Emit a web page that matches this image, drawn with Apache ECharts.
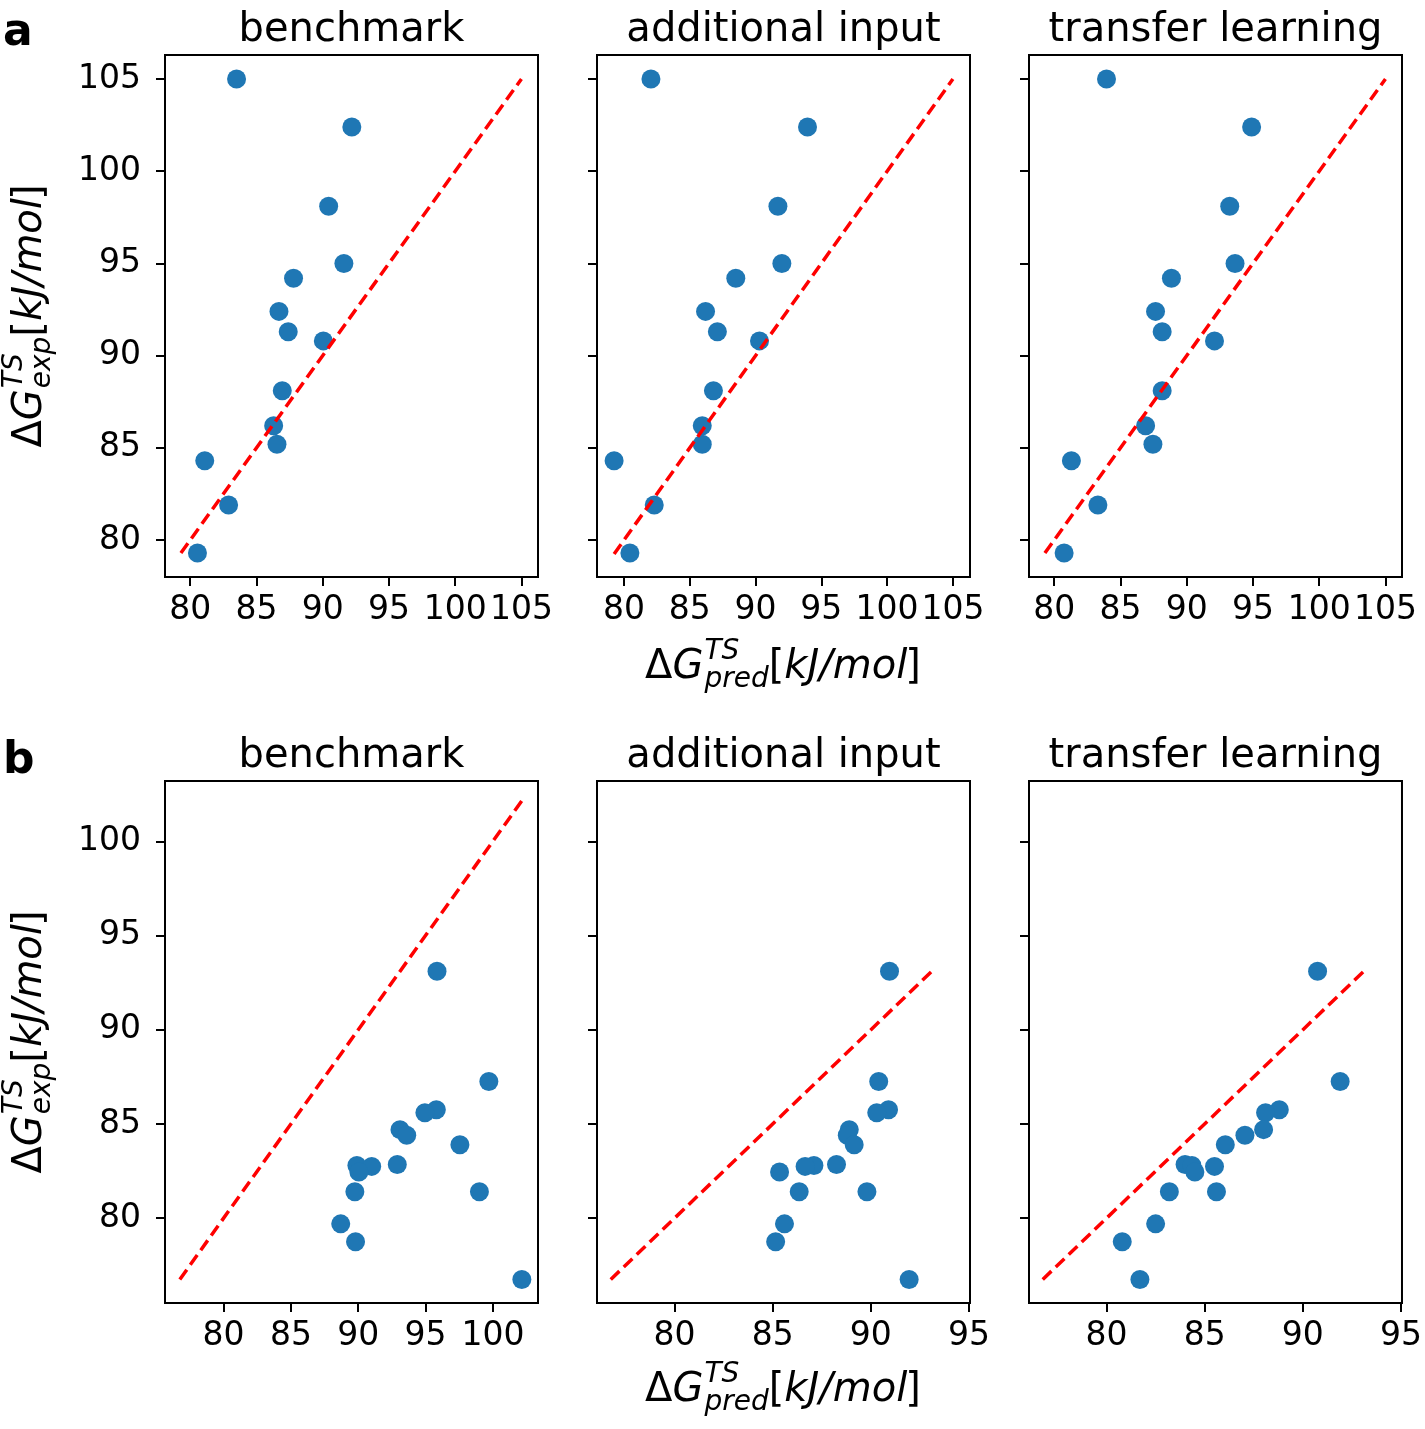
<!DOCTYPE html>
<html>
<head>
<meta charset="utf-8">
<script src="https://cdn.jsdelivr.net/npm/echarts@6/dist/echarts.min.js"></script>
<style>
  html, body { margin: 0; padding: 0; background: #fff; }
  #main { width: 1425px; height: 1429px; }
</style>
</head>
<body>
<div id="main"></div>
<script>
var yExpA = [105.0, 102.4, 98.1, 95.0, 94.2, 92.4, 91.3, 90.8, 88.1, 86.2, 85.2, 84.3, 81.9, 79.3];
var predBenchA = [83.5, 92.2, 90.45, 91.6, 87.8, 86.7, 87.4, 90.05, 86.95, 86.3, 86.55, 81.1, 82.9, 80.55];
var predAddA = [82.05, 93.95, 91.7, 92.0, 88.5, 86.2, 87.1, 90.3, 86.8, 85.95, 85.95, 79.25, 82.3, 80.45];
var predTransA = [83.95, 94.9, 93.25, 93.65, 88.85, 87.65, 88.15, 92.1, 88.15, 86.9, 87.45, 81.3, 83.3, 80.75];

var yExpB = [93.1, 87.25, 85.75, 85.6, 84.7, 84.4, 83.9, 82.85, 82.8, 82.75, 82.45, 81.4, 81.4, 79.7, 78.75, 76.75];
var predBenchB = [95.85, 99.7, 95.8, 94.95, 93.1, 93.6, 97.55, 92.9, 89.9, 91.0, 90.05, 89.75, 99.0, 88.7, 89.8, 102.15];
var predAddB = [90.95, 90.4, 90.9, 90.3, 88.9, 88.8, 89.15, 88.25, 87.1, 86.65, 85.35, 86.35, 89.8, 85.6, 85.15, 91.95];
var predTransB = [90.75, 91.9, 88.8, 88.1, 88.0, 87.05, 86.05, 84.0, 84.35, 85.5, 84.5, 85.6, 83.2, 82.5, 80.8, 81.7];

var ticksA = [80, 85, 90, 95, 100, 105];
var ticksB1 = [80, 85, 90, 95, 100];
var ticksB23 = [80, 85, 90, 95];
var yTicksB = [80, 85, 90, 95, 100];
var titles = ['benchmark', 'additional input', 'transfer learning'];

var FONT = '"DejaVu Sans", sans-serif';
var colLeft = [165, 597, 1029];
var rowTop = [55, 781];
var W = 373, H = 522;

var panels = [
  { x: predBenchA, y: yExpA, row: 0, col: 0, xr: [78.1, 106.25], yr: [78.0, 106.3], xt: ticksA, yt: ticksA },
  { x: predAddA, y: yExpA, row: 0, col: 1, xr: [77.95, 106.3], yr: [78.0, 106.3], xt: ticksA, yt: ticksA },
  { x: predTransA, y: yExpA, row: 0, col: 2, xr: [78.1, 106.25], yr: [78.0, 106.3], xt: ticksA, yt: ticksA },
  { x: predBenchB, y: yExpB, row: 1, col: 0, xr: [75.65, 103.35], yr: [75.5, 103.2], xt: ticksB1, yt: yTicksB },
  { x: predAddB, y: yExpB, row: 1, col: 1, xr: [76.05, 95.05], yr: [75.5, 103.2], xt: ticksB23, yt: yTicksB },
  { x: predTransB, y: yExpB, row: 1, col: 2, xr: [76.05, 95.05], yr: [75.5, 103.2], xt: ticksB23, yt: yTicksB }
];

var grids = [], xAxes = [], yAxes = [], series = [], graphics = [];

panels.forEach(function (p, i) {
  grids.push({
    left: colLeft[p.col], top: rowTop[p.row], width: W, height: H,
    show: true, borderColor: '#000', borderWidth: 2, backgroundColor: '#fff'
  });
  xAxes.push({
    type: 'value', gridIndex: i, min: p.xr[0], max: p.xr[1],
    splitLine: { show: false },
    axisLine: { show: true, lineStyle: { color: '#000', width: 2 } },
    axisTick: { show: true, inside: false, length: 9, lineStyle: { color: '#000', width: 2 }, customValues: p.xt },
    axisLabel: { customValues: p.xt, fontSize: 33, color: '#000', fontFamily: FONT, margin: 17 }
  });
  yAxes.push({
    type: 'value', gridIndex: i, min: p.yr[0], max: p.yr[1],
    splitLine: { show: false },
    axisLine: { show: true, lineStyle: { color: '#000', width: 2 } },
    axisTick: { show: true, inside: false, length: 9, lineStyle: { color: '#000', width: 2 }, customValues: p.yt },
    axisLabel: { show: p.col === 0, customValues: p.yt, fontSize: 33, color: '#000', fontFamily: FONT, margin: 24 }
  });

  var pts = p.x.map(function (v, k) { return [v, p.y[k]]; });
  series.push({
    type: 'scatter', xAxisIndex: i, yAxisIndex: i, data: pts,
    symbolSize: 19, itemStyle: { color: '#1f77b4', opacity: 1 }, z: 2
  });
  // y = x reference line, from smallest to largest value in the panel
  var lo = Math.min(Math.min.apply(null, p.x), Math.min.apply(null, p.y));
  var hi = Math.max(Math.max.apply(null, p.x), Math.max.apply(null, p.y));
  series.push({
    type: 'line', xAxisIndex: i, yAxisIndex: i, data: [[lo, lo], [hi, hi]],
    showSymbol: false, silent: true, z: 3,
    lineStyle: { color: '#ff0000', width: 3.5, type: [12, 6] }
  });

  graphics.push({
    type: 'text', x: colLeft[p.col] + W / 2, y: p.row === 0 ? 31 : 757,
    style: { text: titles[p.col], font: '40px ' + FONT, fill: '#000', align: 'center', verticalAlign: 'middle' }
  });
});

// mathtext style axis label: ΔG^{TS}_{sub}[kJ/mol]
var mctx = document.createElement('canvas').getContext('2d');
function tw(t, size, italic) {
  mctx.font = (italic ? 'italic ' : '') + size + 'px "DejaVu Sans"';
  return mctx.measureText(t).width;
}
function mathLabel(sub, cx, cy, rot) {
  var F = 40, S = 28, x = 0, kids = [];
  function add(t, size, italic, dy) {
    kids.push({
      type: 'text', x: x, y: dy,
      style: { text: t, font: (italic ? 'italic ' : '') + size + 'px ' + FONT, fill: '#000', align: 'left', verticalAlign: 'middle' }
    });
  }
  add('Δ', F, false, 0); x += tw('Δ', F, false);
  add('G', F, true, 0); x += tw('G', F, true) + 1;
  add('TS', S, true, -16); add(sub, S, true, 12);
  x += Math.max(tw('TS', S, true), tw(sub, S, true));
  add('[', F, false, 0); x += tw('[', F, false);
  add('kJ/mol', F, true, 0); x += tw('kJ/mol', F, true) - 2;
  add(']', F, false, 0); x += tw(']', F, false);
  kids.forEach(function (k) { k.x -= x / 2; });
  return { type: 'group', x: cx, y: cy, rotation: rot, children: kids };
}

graphics.push(mathLabel('pred', 783, 668, 0));
graphics.push(mathLabel('pred', 783, 1391, 0));
graphics.push(mathLabel('exp', 31, 316, Math.PI / 2));
graphics.push(mathLabel('exp', 31, 1042, Math.PI / 2));

graphics.push({ type: 'text', x: 3, y: 34, style: { text: 'a', font: 'bold 44px ' + FONT, fill: '#000', align: 'left', verticalAlign: 'middle' } });
graphics.push({ type: 'text', x: 3, y: 762, style: { text: 'b', font: 'bold 44px ' + FONT, fill: '#000', align: 'left', verticalAlign: 'middle' } });

var myChart = echarts.init(document.getElementById('main'));
myChart.setOption({
  backgroundColor: '#fff',
  animation: false,
  grid: grids,
  xAxis: xAxes,
  yAxis: yAxes,
  series: series,
  graphic: graphics
});
</script>
</body>
</html>
